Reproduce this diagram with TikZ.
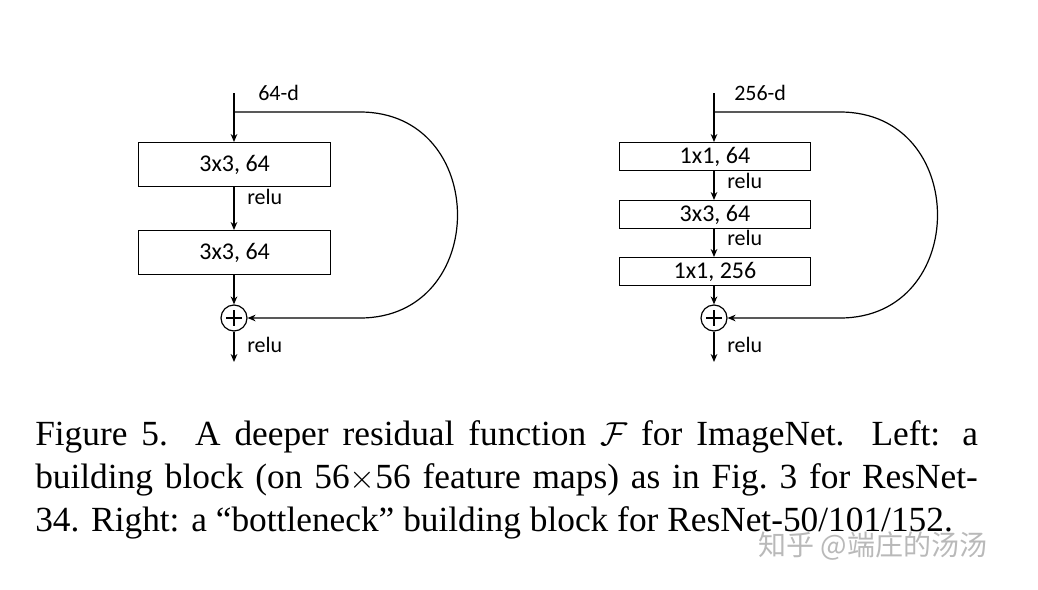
\documentclass[tikz,border=0pt]{standalone}
\usepackage{fontspec}
\setmainfont{Liberation Serif}
\newfontfamily\lbl{Carlito}
\newfontfamily\cjk{Noto Sans CJK SC}
\usetikzlibrary{arrows.meta}
\begin{document}
\begin{tikzpicture}[x=0.75pt,y=-0.75pt,
  blk/.style={draw,line width=0.9pt,minimum height=#1*0.75pt,anchor=north west,inner sep=0pt,font=\lbl\fontsize{18}{20}\selectfont},
  txt/.style={font=\lbl\fontsize{16.5}{18}\selectfont,anchor=west,inner sep=0pt},
  ar/.style={line width=0.9pt,-{Stealth[length=6pt,width=5pt]}},
  sum/.style={draw,circle,line width=0.9pt,minimum size=19.5pt,inner sep=0pt}]
\useasboundingbox (0,0) rectangle (1038,589);
% left
\coordinate (Lin) at (234,93);
\coordinate (Ls) at (234,112);
\node[txt] (Ld) at (258,93) {64-d};
\node[blk=44,minimum width=144pt] (L1) at (138,142) {3x3, 64};
\node[blk=44,minimum width=144pt] (L2) at (138,230) {3x3, 64};
\node[txt] (Lr1) at (247,197) {relu};
\node[sum] (Lp) at (234,318) {};
\draw[line width=0.9pt] (234,310)--(234,326) (226,318)--(242,318);
\coordinate (Lo) at (234,362);
\node[txt] (Lr2) at (247,345) {relu};
\draw[ar] (Lin)--(L1.north-|Lin);
\draw[ar] (L1.south-|Lin)--(L2.north-|Lin);
\draw[ar] (L2.south-|Lin)--(Lp.north);
\draw[ar] (Lp.south)--(Lo);
\draw[ar] (Ls)--(360,112) .. controls (490,112) and (490,318) .. (360,318) -- (Lp.east);
% right
\coordinate (Rin) at (714,93);
\coordinate (Rs) at (714,112);
\node[txt] (Rd) at (734,93) {256-d};
\node[blk=28,minimum width=143pt] (R1) at (619,142) {1x1, 64};
\node[blk=28,minimum width=143pt] (R2) at (619,200) {3x3, 64};
\node[blk=28,minimum width=143pt] (R3) at (619,257) {1x1, 256};
\node[txt] (Rr1) at (727,181) {relu};
\node[txt] (Rr2) at (727,238) {relu};
\node[sum] (Rp) at (714,318) {};
\draw[line width=0.9pt] (714,310)--(714,326) (706,318)--(722,318);
\coordinate (Ro) at (714,362);
\node[txt] (Rr3) at (727,345) {relu};
\draw[ar] (Rin)--(R1.north-|Rin);
\draw[ar] (R1.south-|Rin)--(R2.north-|Rin);
\draw[ar] (R2.south-|Rin)--(R3.north-|Rin);
\draw[ar] (R3.south-|Rin)--(Rp.north);
\draw[ar] (Rp.south)--(Ro);
\draw[ar] (Rs)--(840,112) .. controls (970,112) and (970,318) .. (840,318) -- (Rp.east);
% caption
\node[anchor=north west,inner sep=0pt,text width=707pt,align=justify,font=\fontsize{26.5}{32.3}\selectfont] (cap) at (35,420)
{Figure 5. A deeper residual function $\mathcal{F}$ for ImageNet. Left: a\linebreak building block (on 56$\times$56 feature maps) as in Fig.~3 for ResNet-\linebreak 34. Right: a ``bottleneck'' building block for ResNet-50/101/152.};
\node[anchor=west,inner sep=0pt,text=gray!55,font=\cjk\fontsize{21}{24}\selectfont] (wm) at (758,546) {知乎 @端庄的汤汤};
\end{tikzpicture}
\end{document}
